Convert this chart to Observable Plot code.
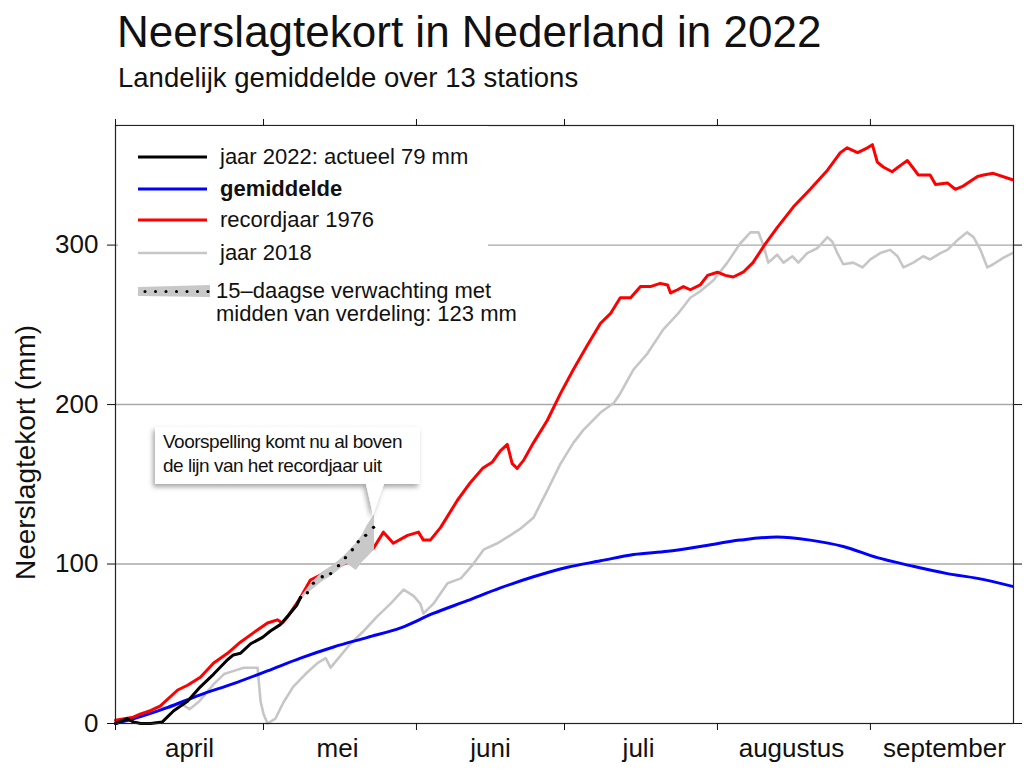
<!DOCTYPE html>
<html><head><meta charset="utf-8">
<script src="https://cdn.jsdelivr.net/npm/d3@7"></script>
<script src="https://cdn.jsdelivr.net/npm/@observablehq/plot@0.6"></script>
<style>
body{margin:0;background:#fff;font-family:"Liberation Sans",Arial,Helvetica,sans-serif;}
#wrap{position:relative;width:1024px;height:775px;overflow:hidden;background:#fff}
#header{position:relative;height:100px}
#title{position:absolute;left:117px;top:10px;font-size:44px;line-height:44px;color:#111;white-space:nowrap}
#subtitle{position:absolute;left:118px;top:64px;font-size:27.5px;line-height:27px;color:#111;white-space:nowrap}
.ov{position:absolute;overflow:visible}
</style></head>
<body>
<div id="wrap">
  <div id="header">
    <div id="title">Neerslagtekort in Nederland in 2022</div>
    <div id="subtitle">Landelijk gemiddelde over 13 stations</div>
  </div>
  <div id="chart"></div>
  <svg id="legend" class="ov" style="left:118px;top:126px" width="440" height="204"></svg>
  <svg id="callout" class="ov" style="left:140px;top:415px" width="300" height="115"></svg>
</div>
<script>
// ---- data (day offset from 1 April 2022, mm) ----
const redDays = [0,3.6,5.1,7.1,9.1,12.6,14.6,17.2,19.9,22.7,25.3,28,30.8,32.8,33.8,34.9,37.5,39.5,41.5,47.6,52.3,54.3,56.3,59.2,61.4,62.4,63.8,65.9,69.3,71.9,74.4,76.4,78,79.4,80.4,81.4,82.7,84.7,87.5,90.2,92.8,95.6,98.3,100.3,102.3,104.4,106.4,108.4,110.4,111.9,112.5,113.9,115.1,116.5,118.5,120,122,123.6,125.2,127.2,129.2,131.3,134.1,137.4,140.8,144.3,146.9,148.3,150.4,152.4,153.4,154.4,155.6,157.4,159.1,160.5,161.5,162.7,165.1,166.2,168.6,170.2,171.8,174.7,175.9,177.9,181.8];
const redMm = [2,4,6,8,11,21,24,29,38,44,51,57,63,65,63,67,79,90,93,102,110,120,113,118,120,115,115,123,140,151,160,164,171,175,163,160,165,176,190,207,222,237,251,257,267,267,274,274,276,275,270,272,274,272,275,281,283,281,280,283,289,299,311,324,335,347,358,361,358,361,363,352,349,346,350,353,349,344,344,338,339,335,337,343,344,345,341];

const grayDays = [0,3,8,11,13,15,17,20,22,24,26,28,28.8,29.4,30,30.8,32.4,34,36,38.5,41,42.6,43.6,45.2,47.6,50.3,53,55.7,58.4,60.4,61.8,62.4,64.4,67.3,70,72.5,74.6,77.4,80,82,84.7,87.5,90.2,92.8,94.8,98.3,101,102.3,105,107.8,111,114,116.5,118.5,121.2,124,126.6,128.7,130.3,131.3,132.3,134.1,135.4,137.2,138.4,140.2,142.2,144.3,145.3,146.3,147.5,149.5,151.4,153,155,157,158.5,159.7,161.7,163.7,165.1,167.2,168.6,170.6,172.6,173.9,175.3,176.7,177.9,179.9,181.8];
const grayMm = [1,2,10,10,13,9,14,25,31,33,35,35,35,14,6,0,3,13,23,31,38,41,35,41,50,58,67,75,84,80,75,69,75,88,91,100,109,113,118,122,129,146,163,176,184,195,201,207,222,232,247,257,267,271,278,289,301,308,308,300,289,294,289,293,289,295,298,305,302,295,288,289,286,291,295,297,293,286,289,293,291,295,297,303,308,305,297,286,288,292,295];

const blueDays = [0,3.6,10.5,17.2,23.9,30.8,37.5,44.2,51.1,57.8,64.4,71.3,78,84.7,91.6,98.3,105,111.9,118.5,126.6,134.1,140.8,147.5,154.4,161.1,168.6,174.7,181.8];
const blueMm = [0,3,10,18,25,33,41,48,54,60,69,77,85,92,98,102,106,108,111,115,117,115,111,104,99,94,91,86];

const blackDays = [0,2.4,3.6,5.1,7.1,9.5,11.8,14.6,17.2,19.9,22.7,23.9,25.3,27.4,29.8,31.4,33.4,35.1,36.7,37.5];
const blackMm = [0,3,1,0,0,1,8,14,23,31,40,43,44,50,54,58,62,68,74,79];

// 15-daagse verwachting
const fcDays = [37.5,38.9,40.1,41.9,43.6,45.2,46.6,48,49.2,50.7,52.3];
const fcMm = [79,82,88,92,94,99,104,109,114,118,123];
const bandDays = [37.5,40,42,44,46,47,48.8,50,51,52.5];
const bandLow = [78,84,89,93,98,100,96,101,104,109];
const bandHigh = [79,89,95,99,104,107,113,118,124,131];

const monthNames = ["april","mei","juni","juli","augustus","september"];
const monthStartDays = [0,30,61,91,122,153];
const monthMidDays = [15,45,76,106,137,168];
const yTicks = [0,100,200,300];
const yGrid = [100,200,300];

// ---- build ----
const t0 = Date.UTC(2022, 3, 1);
const day = d => new Date(t0 + d * 864e5);
const series = (ds, vs) => ds.map((d, i) => ({date: day(d), mm: vs[i]}));
const red = series(redDays, redMm);
const gray = series(grayDays, grayMm);
const blue = series(blueDays, blueMm);
const black = series(blackDays, blackMm);
const fc = series(fcDays, fcMm);
const band = bandDays.map((d, i) => ({date: day(d), lo: bandLow[i], hi: bandHigh[i]}));
const monthStarts = monthStartDays.map(day);
const monthMids = monthMidDays.map(day);

const chart = Plot.plot({
  width: 1024, height: 675,
  marginTop: 25, marginBottom: 52, marginLeft: 115, marginRight: 11,
  x: {type: "utc", domain: [day(0), day(182)]},
  y: {domain: [0, 375]},
  style: {fontFamily: "'Liberation Sans', Arial, sans-serif", background: "white", overflow: "visible", color: "#111"},
  marks: [
    Plot.gridY(yGrid, {stroke: "#a8a8a8", strokeOpacity: 1, strokeWidth: 1.4}),
    Plot.line(gray, {x: "date", y: "mm", stroke: "#c6c6c6", strokeWidth: 2.6}),
    Plot.line(blue, {x: "date", y: "mm", stroke: "#0000ff", strokeWidth: 3, curve: "monotone-x"}),
    Plot.line(red, {x: "date", y: "mm", stroke: "#ff0000", strokeWidth: 3}),
    Plot.line(black, {x: "date", y: "mm", stroke: "#000", strokeWidth: 3}),
    Plot.areaY(band, {x: "date", y1: "lo", y2: "hi", fill: "#c8c8c8", fillOpacity: 1}),
    Plot.dot(fc, {x: "date", y: "mm", r: 1.7, fill: "#000", stroke: null}),
    Plot.frame({stroke: "#222", strokeWidth: 1.2}),
    Plot.axisX({anchor: "bottom", ticks: monthStarts, tickSize: 7, tickFormat: () => "", label: null}),
    Plot.axisX({anchor: "top", ticks: monthStarts, tickSize: 7, tickFormat: () => "", label: null}),
    Plot.axisX({anchor: "bottom", ticks: monthMids, tickSize: 0, tickPadding: 15, fontSize: 26,
      tickFormat: d => monthNames[d.getUTCMonth() - 3], label: null}),
    Plot.axisY({anchor: "left", ticks: yTicks, tickSize: 8, tickPadding: 9, fontSize: 26,
      tickFormat: d => String(d), label: null}),
    Plot.axisY({anchor: "right", ticks: yTicks, tickSize: 8, tickFormat: () => "", label: null}),
    Plot.text(["Neerslagtekort (mm)"], {frameAnchor: "left", text: d => d, rotate: -90,
      dx: -81, dy: 28, fontSize: 28, lineAnchor: "bottom", textAnchor: "middle", fill: "#111"})
  ]
});
document.getElementById("chart").appendChild(chart);

// ---- legend (overlay with white background) ----
const ns = "http://www.w3.org/2000/svg";
function el(parent, tag, attrs, text) {
  const e = document.createElementNS(ns, tag);
  for (const k in attrs) e.setAttribute(k, attrs[k]);
  if (text != null) e.textContent = text;
  parent.appendChild(e);
  return e;
}
const lg = document.getElementById("legend");
el(lg, "rect", {x: 0, y: 0, width: 370, height: 204, fill: "#fff"});
const legendItems = [
  {label: "jaar 2022: actueel 79 mm", color: "#000", weight: "normal", width: 3},
  {label: "gemiddelde", color: "#0000ff", weight: "bold", width: 3},
  {label: "recordjaar 1976", color: "#ff0000", weight: "normal", width: 3},
  {label: "jaar 2018", color: "#c6c6c6", weight: "normal", width: 2.6}
];
const rowY = [31, 63, 94, 127];
legendItems.forEach((it, i) => {
  el(lg, "line", {x1: 20, x2: 89, y1: rowY[i], y2: rowY[i], stroke: it.color, "stroke-width": it.width});
  el(lg, "text", {x: 102, y: rowY[i] + 7, "font-size": 22, "font-weight": it.weight, fill: "#111",
    "font-family": "'Liberation Sans', Arial, sans-serif"}, it.label);
});
el(lg, "polygon", {points: "20,161 92,159 92,171 20,170", fill: "#c8c8c8"});
for (let k = 0; k < 7; k++) el(lg, "circle", {cx: 27 + k * 10.5, cy: 165.5, r: 1.5, fill: "#000"});
el(lg, "text", {x: 98, y: 172, "font-size": 22, fill: "#111", "font-family": "'Liberation Sans', Arial, sans-serif"}, "15–daagse verwachting met");
el(lg, "text", {x: 98, y: 195, "font-size": 22, fill: "#111", "font-family": "'Liberation Sans', Arial, sans-serif"}, "midden van verdeling: 123 mm");

// ---- callout ----
const co = document.getElementById("callout");
const defs = el(co, "defs", {});
const f = el(defs, "filter", {id: "sh", x: "-10%", y: "-20%", width: "130%", height: "160%"});
el(f, "feDropShadow", {dx: -2, dy: 3, stdDeviation: 2.5, "flood-color": "#000", "flood-opacity": 0.35});
el(co, "path", {d: "M15,12 H280 V69 H244 L233,100 L226,69 H15 Z", fill: "#fff", filter: "url(#sh)"});
const tstyle = {"font-size": 19, "letter-spacing": "-0.5", fill: "#111", "font-family": "'Liberation Sans', Arial, sans-serif"};
el(co, "text", Object.assign({x: 23, y: 33}, tstyle), "Voorspelling komt nu al boven");
el(co, "text", Object.assign({x: 23, y: 57}, tstyle), "de lijn van het recordjaar uit");
</script>
</body></html>
